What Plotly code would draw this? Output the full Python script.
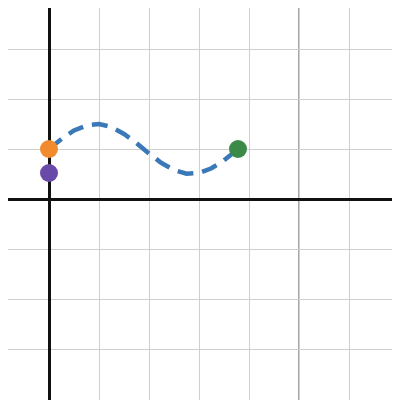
import plotly.graph_objects as go

# curve points
curve_x = [0, 0.25, 0.5, 0.75, 1.0, 1.25, 1.5, 1.75, 2.0, 2.25, 2.5, 2.75, 3.0, 3.25, 3.5, 3.78]
curve_y = [1.0, 1.2, 1.37, 1.47, 1.5, 1.44, 1.3, 1.12, 0.91, 0.72, 0.58, 0.505, 0.52, 0.615, 0.775, 1.0]

# marked points
start_pt = (0, 1.0)
low_pt = (0, 0.52)
end_pt = (3.78, 1.0)

fig = go.Figure()
fig.add_trace(go.Scatter(x=curve_x, y=curve_y, mode="lines",
                         line=dict(color="#3a78b8", width=4.5, dash="16px,9px")))
for (px_, py_), col in [(start_pt, "#f28a2e"), (low_pt, "#6a4aa8"), (end_pt, "#3b8a48")]:
    fig.add_trace(go.Scatter(x=[px_], y=[py_], mode="markers",
                             marker=dict(color=col, size=18)))

axis = dict(dtick=1, showgrid=True, gridcolor="#cfcfcf", gridwidth=1,
            zeroline=True, zerolinecolor="#111", zerolinewidth=2.5,
            showticklabels=False, ticks="")
# page body has an 8px margin, so the figure covers the visible 392px only
fig.update_xaxes(range=[-0.82, 7.02], **axis)
fig.update_yaxes(range=[-4.02, 3.82], **axis)
fig.add_shape(type="line", x0=5, x1=5, y0=-5, y1=5, line=dict(color="#8a8a8a", width=1.5), layer="below")
fig.update_layout(width=392, height=392, margin=dict(l=0, r=0, t=0, b=0),
                  showlegend=False, plot_bgcolor="white", paper_bgcolor="white")
fig.write_html("out.html")
